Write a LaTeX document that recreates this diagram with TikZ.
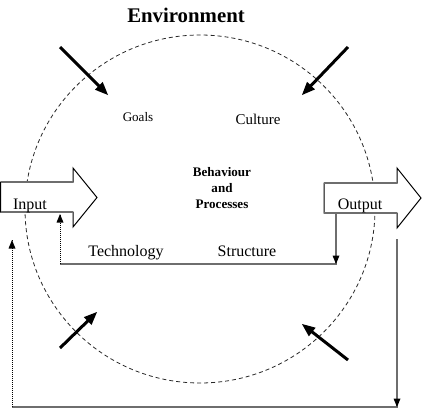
\documentclass[tikz,border=0pt]{standalone}
\usepackage{fontspec}
\setmainfont{Liberation Serif}

\begin{document}
\begin{tikzpicture}[x=0.75pt,y=0.75pt,yscale=-1,xscale=1]
\useasboundingbox (0,0) rectangle (423,410); %diagram is 423 wide and 410 high

%Shape: Circle [id:environment]
\draw  [color={rgb, 255:red, 40; green, 40; blue, 40 }  ,draw opacity=1 ][dash pattern={on 3pt off 2.25pt}][line width=0.6]  (200,209) circle [x radius=175, y radius=174] ;

%Shape: Right Arrow [id:inputArrow]
\draw  [fill={rgb, 255:red, 255; green, 255; blue, 255 }  ,fill opacity=1 ][line width=0.75] (0.5,182) -- (73,182) -- (73,168) -- (97,197.5) -- (73,227) -- (73,212) -- (0.5,212) -- cycle ;
\draw  [color={rgb, 255:red, 110; green, 110; blue, 110 }  ][line width=1.4] (0.5,182) -- (73,182) (0.5,212) -- (73,212) ;
%Shape: Right Arrow [id:outputArrow]
\draw  [fill={rgb, 255:red, 255; green, 255; blue, 255 }  ,fill opacity=1 ][line width=0.75] (324,183) -- (397,183) -- (397,168) -- (421,198) -- (397,228) -- (397,213) -- (324,213) -- cycle ;
\draw  [color={rgb, 255:red, 110; green, 110; blue, 110 }  ][line width=1.4] (324,183) -- (397,183) (324,213) -- (397,213) ;

%Coordinates of the feedback loops
\coordinate (outA) at (336,213) ;
\coordinate (outB) at (336,264) ;
\coordinate (inB) at (60,264) ;
\coordinate (inA) at (60,214) ;
\coordinate (outC) at (397,239) ;
\coordinate (outD) at (397,407) ;
\coordinate (inD) at (12,407) ;
\coordinate (inC) at (12,240) ;

%Straight Lines [id:innerLoop]
\draw [color={rgb, 255:red, 110; green, 110; blue, 110 }  ,draw opacity=1 ][line width=1.1]  (outA) -- (outB) -- (inB) ;
\draw [shift={(outB)}, rotate = 270] [fill={rgb, 255:red, 0; green, 0; blue, 0 }  ][line width=0.08]  [draw opacity=0] (8.5,-3.5) -- (0,0) -- (8.5,3.5) -- cycle    ;
%Straight Lines [id:innerLoopBack]
\draw [dash pattern={on 0.75pt off 0.75pt}][line width=0.75]  (inB) -- (inA) ;
\draw [shift={(inA)}, rotate = 90] [fill={rgb, 255:red, 0; green, 0; blue, 0 }  ][line width=0.08]  [draw opacity=0] (8.5,-3.5) -- (0,0) -- (8.5,3.5) -- cycle    ;
%Straight Lines [id:outerLoop]
\draw [color={rgb, 255:red, 110; green, 110; blue, 110 }  ,draw opacity=1 ][line width=1.1]  (outC) -- (outD) -- (inD) ;
\draw [shift={(outD)}, rotate = 270] [fill={rgb, 255:red, 0; green, 0; blue, 0 }  ][line width=0.08]  [draw opacity=0] (8.5,-3.5) -- (0,0) -- (8.5,3.5) -- cycle    ;
%Straight Lines [id:outerLoopBack]
\draw [dash pattern={on 0.75pt off 0.75pt}][line width=0.75]  (inD) -- (inC) ;
\draw [shift={(inC)}, rotate = 90] [fill={rgb, 255:red, 0; green, 0; blue, 0 }  ][line width=0.08]  [draw opacity=0] (8.5,-3.5) -- (0,0) -- (8.5,3.5) -- cycle    ;

%Coordinates of the outside forces
\coordinate (goalsFrom) at (60,47) ;
\coordinate (goalsTo) at (108,95) ;
\coordinate (cultureFrom) at (348,47) ;
\coordinate (cultureTo) at (302,95) ;
\coordinate (techFrom) at (60,348) ;
\coordinate (techTo) at (97,312) ;
\coordinate (structFrom) at (348,360) ;
\coordinate (structTo) at (302,324) ;

%Straight Lines [id:goalsForce]
\draw [line width=2.25, shorten >=6pt]    (goalsFrom) -- (goalsTo) ;
\draw [shift={(goalsTo)}, rotate = 225] [fill={rgb, 255:red, 0; green, 0; blue, 0 }  ][line width=0.08]  [draw opacity=0] (13,-5.5) -- (0,0) -- (13,5.5) -- cycle    ;
%Straight Lines [id:cultureForce]
\draw [line width=2.25, shorten >=6pt]    (cultureFrom) -- (cultureTo) ;
\draw [shift={(cultureTo)}, rotate = 313.8] [fill={rgb, 255:red, 0; green, 0; blue, 0 }  ][line width=0.08]  [draw opacity=0] (13,-5.5) -- (0,0) -- (13,5.5) -- cycle    ;
%Straight Lines [id:techForce]
\draw [line width=2.25, shorten >=6pt]    (techFrom) -- (techTo) ;
\draw [shift={(techTo)}, rotate = 135.8] [fill={rgb, 255:red, 0; green, 0; blue, 0 }  ][line width=0.08]  [draw opacity=0] (13,-5.5) -- (0,0) -- (13,5.5) -- cycle    ;
%Straight Lines [id:structForce]
\draw [line width=2.25, shorten >=6pt]    (structFrom) -- (structTo) ;
\draw [shift={(structTo)}, rotate = 38.1] [fill={rgb, 255:red, 0; green, 0; blue, 0 }  ][line width=0.08]  [draw opacity=0] (13,-5.5) -- (0,0) -- (13,5.5) -- cycle    ;

% Text Node
\draw (186,23) node (title) [anchor=base][inner sep=0.75pt]   [align=left] {{\fontsize{15.6}{18}\selectfont\bfseries Environment}};
% Text Node
\draw (138,121) node (goals) [anchor=base][inner sep=0.75pt]   [align=left] {{\fontsize{9.8}{12}\selectfont Goals}};
% Text Node
\draw (258,124) node (culture) [anchor=base][inner sep=0.75pt]   [align=left] {{\fontsize{11.2}{13}\selectfont Culture}};
% Text Node
\draw (222,188) node (behaviour) [inner sep=0.75pt]   [align=center, font={\fontsize{9.8}{12}\selectfont\bfseries}] {Behaviour\\and\\Processes};
% Text Node
\draw (126,256) node (technology) [anchor=base][inner sep=0.75pt]   [align=left] {{\fontsize{12}{14}\selectfont Technology}};
% Text Node
\draw (247,256) node (structure) [anchor=base][inner sep=0.75pt]   [align=left] {{\fontsize{12}{14}\selectfont Structure}};
% Text Node
\draw (30,209) node (input) [anchor=base][inner sep=0.75pt]   [align=left] {{\fontsize{12}{14}\selectfont Input}};
% Text Node
\draw (360,209) node (output) [anchor=base][inner sep=0.75pt]   [align=left] {{\fontsize{12}{14}\selectfont Output}};

\end{tikzpicture}
\end{document}
